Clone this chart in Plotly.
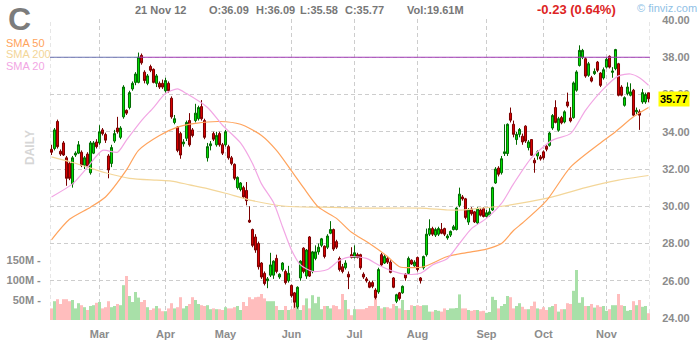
import plotly.graph_objects as go

# ---------------- data ----------------
ticker = "C"
header_date = "21 Nov 12"
header_ohlc = ["O:36.09", "H:36.09", "L:35.58", "C:35.77"]
header_vol = "Vol:19.61M"
header_change = "-0.23 (0.64%)"
last_price = 35.77

opens = [
    33.05, 33.1, 34.55, 32.95, 33.4, 32.6, 32.3, 31.2, 32.75, 32.85, 32.9, 32.2, 32.8, 31.8, 32.85, 33.45,
    33.4, 34.1, 33.85, 32.7, 32.3, 33.5, 34.2, 33.7, 34.8, 35.15, 35.3, 36.3, 36.65, 36.65, 38.1, 37.2,
    36.6, 37.5, 37.35, 36.6, 36.6, 36.6,
    36.2, 36.6, 35.8, 34.5, 34.25, 33.9, 33.35, 33.65, 34.6, 34.1, 34.6, 34.7, 35.35, 34.6, 32.6, 33.25,
    33.9, 33.3, 33.9, 33.3,
    33.3, 33.2, 32.6, 32.25, 31.0, 30.9, 31.0, 30.85, 29.25, 28.75, 28.35, 28.0, 26.95, 26.4, 26.0, 26.3,
    26.3, 27.2, 26.2, 26.6, 26.5, 26.0,
    25.75, 25.35, 24.6, 26.15, 27.75, 26.25, 28.35, 26.5, 27.2, 27.55, 27.9, 27.85, 27.8, 28.55, 28.75, 28.1,
    27.2, 26.75, 26.7, 26.35, 27.4,
    27.25, 27.4, 27.4, 26.35, 26.1, 25.9, 25.9, 25.5, 25.4, 27.4, 26.95, 27.2, 27.0, 26.15, 24.9, 25.35,
    25.35, 26.35, 26.4, 27.1, 26.8,
    27.25, 26.15, 26.7, 27.4, 28.5, 28.8, 28.45, 28.5, 28.75, 28.8, 28.3, 28.45, 28.75, 28.75, 30.05, 30.5,
    30.4, 29.15, 29.85, 29.7, 29.1, 29.8, 29.88,
    29.45, 29.52, 29.8, 31.25, 32.05, 31.8, 32.83, 32.83, 35.0, 34.4, 33.58, 33.86, 33.76, 34.3, 33.15, 33.58,
    32.47, 32.7, 32.65,
    32.92, 33.22, 33.27, 34.2, 35.3, 34.08, 34.76, 34.53, 35.6, 34.74, 34.76, 36.23, 37.56, 38.0, 37.92, 37.03,
    36.9, 37.12, 37.74, 37.15, 36.89,
    37.47, 38.05, 37.19, 37.39, 37.65, 36.4, 35.42, 36.05, 35.96, 36.23, 35.07, 35.07, 35.6, 35.6, 36.09,
]
highs = [
    33.3, 34.2, 34.65, 33.05, 33.5, 32.7, 32.4, 32.7, 32.95, 33.5, 33.0, 32.7, 32.9, 33.5, 33.5, 33.6,
    34.35, 34.2, 33.95, 32.8, 33.3, 34.1, 34.8, 34.3, 36.5, 35.2, 36.2, 36.7, 37.2, 38.25, 38.2, 37.3,
    37.1, 37.6, 37.4, 37.1, 36.7, 36.8,
    36.9, 36.7, 35.9, 34.9, 34.3, 34.0, 33.6, 34.6, 35.0, 34.2, 35.5, 35.4, 35.7, 34.7, 33.4, 33.5,
    34.0, 34.0, 34.0, 33.4,
    34.1, 33.3, 32.7, 32.3, 31.6, 31.3, 31.1, 31.3, 30.0, 28.8, 28.5, 28.1, 27.0, 26.5, 26.2, 27.5,
    27.1, 27.4, 26.4, 27.0, 26.6, 26.8,
    25.8, 25.4, 25.7, 27.1, 27.8, 27.7, 28.4, 27.6, 27.9, 28.0, 28.3, 27.9, 28.5, 29.2, 28.8, 28.2,
    27.3, 26.9, 27.1, 26.5, 27.8,
    27.9, 27.5, 27.45, 26.45, 26.2, 26.0, 26.0, 25.6, 26.7, 27.5, 27.4, 27.3, 27.1, 26.2, 25.3, 25.4,
    25.75, 26.4, 27.3, 27.15, 27.1,
    27.3, 26.2, 27.35, 28.8, 29.3, 28.9, 28.85, 28.9, 29.1, 28.85, 28.5, 28.7, 29.0, 29.95, 31.0, 30.6,
    30.45, 29.9, 29.95, 29.75, 29.95, 29.9, 29.95,
    29.8, 29.9, 31.05, 32.1, 32.15, 32.7, 34.4, 34.45, 35.3, 34.6, 34.0, 34.2, 33.9, 34.35, 33.55, 33.6,
    32.6, 33.0, 32.75,
    33.0, 33.3, 34.0, 34.95, 35.69, 34.8, 34.85, 35.15, 36.1, 35.33, 36.7, 37.3, 38.64, 38.45, 38.0, 37.75,
    37.0, 37.4, 37.8, 37.2, 37.45,
    38.0, 38.1, 37.47, 38.45, 37.7, 36.5, 35.9, 36.65, 36.6, 36.3, 35.3, 35.2, 36.3, 36.1, 36.09,
]
lows = [
    32.75, 33.0, 33.1, 32.7, 32.7, 31.1, 31.4, 31.0, 32.65, 32.8, 32.1, 32.0, 32.05, 31.7, 32.8, 33.1,
    33.3, 33.8, 33.4, 31.5, 32.1, 33.4, 33.9, 33.6, 34.7, 34.9, 35.2, 36.2, 36.5, 36.6, 37.6, 36.6,
    36.5, 37.2, 36.6, 36.4, 36.3, 36.3,
    36.1, 36.1, 34.7, 34.4, 32.9, 32.55, 33.2, 33.5, 33.2, 33.7, 34.5, 34.6, 34.6, 33.6, 32.4, 33.0,
    33.5, 33.2, 33.2, 32.75,
    33.2, 32.5, 32.2, 31.4, 30.9, 30.8, 30.4, 30.05, 29.1, 27.8, 27.5, 26.6, 26.1, 25.75, 25.6, 26.2,
    26.1, 26.4, 26.1, 26.5, 25.8, 25.9,
    25.1, 24.55, 24.5, 26.0, 26.4, 26.1, 26.2, 26.4, 27.1, 27.4, 27.8, 27.2, 27.7, 28.5, 27.6, 27.7,
    26.5, 26.4, 26.6, 25.55, 27.2,
    27.2, 27.2, 26.6, 26.1, 25.9, 25.6, 25.6, 25.0, 25.3, 26.8, 26.9, 26.9, 26.4, 25.6, 24.8, 24.95,
    25.3, 26.0, 26.35, 26.85, 26.75,
    26.5, 25.85, 26.6, 27.3, 28.4, 28.4, 28.35, 28.4, 28.5, 28.4, 28.2, 28.35, 28.7, 28.7, 29.95, 30.3,
    29.3, 29.0, 29.5, 29.1, 29.0, 29.45, 29.4,
    29.4, 29.45, 29.75, 31.2, 31.6, 31.7, 32.7, 32.7, 34.5, 33.7, 33.3, 33.7, 33.3, 33.4, 33.0, 32.7,
    31.8, 32.5, 32.45,
    32.5, 32.95, 33.2, 34.1, 34.45, 34.0, 34.4, 34.45, 35.3, 34.5, 34.7, 36.15, 37.5, 37.9, 36.9, 36.95,
    36.65, 37.05, 37.2, 36.4, 36.8,
    37.4, 37.4, 36.9, 37.3, 35.9, 35.9, 35.35, 35.95, 35.9, 34.85, 34.95, 34.1, 35.5, 35.5, 35.58,
]
closes = [
    32.9, 34.1, 33.2, 32.8, 32.75, 31.5, 31.5, 32.6, 32.85, 33.3, 32.2, 32.6, 32.15, 33.4, 33.4, 33.2,
    34.0, 33.9, 33.55, 31.95, 33.15, 33.9, 34.0, 34.2, 36.4, 35.0, 36.1, 36.6, 37.1, 38.0, 37.7, 36.75,
    37.0, 37.3, 36.65, 37.0, 36.4, 36.4,
    36.75, 36.2, 34.8, 34.7, 33.0, 32.75, 33.45, 34.5, 33.3, 33.8, 35.0, 35.3, 34.7, 33.7, 33.2, 33.35,
    33.6, 33.8, 33.3, 32.85,
    34.0, 32.6, 32.3, 31.5, 31.55, 31.25, 30.5, 30.3, 29.15, 27.9, 27.65, 26.75, 26.2, 25.85, 26.1, 26.85,
    27.05, 26.5, 26.35, 26.95, 25.9, 26.4,
    25.2, 24.85, 25.65, 27.05, 26.5, 27.65, 26.25, 27.55, 27.55, 27.8, 28.25, 27.3, 28.4, 28.75, 27.7, 27.8,
    26.6, 26.5, 26.95, 26.2, 27.25,
    27.5, 27.25, 26.7, 26.2, 26.0, 25.65, 25.7, 25.1, 26.6, 26.85, 27.3, 27.0, 26.45, 25.65, 25.25, 25.05,
    25.7, 26.15, 27.2, 26.9, 27.0,
    26.6, 26.0, 27.3, 28.5, 28.8, 28.5, 28.75, 28.8, 28.55, 28.5, 28.4, 28.65, 28.9, 29.9, 30.65, 30.4,
    29.4, 29.8, 29.6, 29.16, 29.85, 29.52, 29.45,
    29.65, 29.7, 31.0, 32.0, 31.72, 32.55, 32.92, 34.4, 34.62, 33.86, 33.86, 34.12, 33.45, 33.5, 33.45, 32.74,
    32.33, 32.92, 32.54,
    32.6, 33.06, 33.93, 34.87, 34.5, 34.7, 34.48, 35.07, 35.39, 34.58, 36.62, 37.21, 38.37, 38.37, 36.99, 37.65,
    36.72, 37.24, 37.3, 36.49, 37.33,
    37.89, 37.47, 37.26, 38.41, 35.96, 35.96, 35.83, 36.4, 36.14, 34.89, 35.15, 34.89, 36.1, 36.0, 35.77,
]
volumes_m = [
    29, 47, 52, 40, 52, 52, 47, 50, 29, 42, 37, 32, 25, 35, 37, 43,
    45, 29, 32, 47, 32, 35, 40, 37, 87, 110, 60, 45, 70, 56, 45, 50, 32, 25, 29, 35, 29, 22,
    22, 29, 42, 29, 32, 57, 29, 35, 40, 57, 50, 40, 37, 35, 37, 27, 29, 27, 27, 25,
    32, 29, 29, 32, 35, 25, 45, 35, 57, 52, 57, 58, 65, 54, 47, 47, 47, 35, 25, 25, 35, 25,
    27, 50, 58, 25, 37, 54, 29, 62, 42, 58, 27, 35, 35, 29, 37, 35, 27, 65, 50, 27, 12,
    27, 27, 27, 27, 30, 35, 35, 57, 35, 29, 32, 32, 29, 40, 35, 29, 50, 25, 25, 37, 35,
    37, 35, 37, 37, 21, 21, 25, 23, 21, 29, 25, 29, 29, 30, 64, 29, 29, 25, 23, 25, 25, 22, 23,
    18, 20, 58, 50, 29, 35, 40, 60, 57, 29, 35, 42, 33, 27, 27, 35, 46, 29, 27,
    32, 25, 32, 35, 40, 21, 27, 27, 42, 40, 73, 125, 43, 57, 35, 35, 40, 31, 37, 33, 35,
    23, 27, 37, 37, 65, 37, 35, 23, 25, 47, 37, 50, 33, 35, 17,
]

month_labels = ["Mar", "Apr", "May", "Jun", "Jul", "Aug", "Sep", "Oct", "Nov"]
month_start_idx = [16, 38, 58, 80, 101, 122, 145, 164, 185]
price_ticks = [24, 26, 28, 30, 32, 34, 36, 38, 40]
volume_ticks = [50, 100, 150]
volume_tick_text = ["50M -", "100M -", "150M -"]

sma20_idx = [0, 7, 12, 17, 22, 25, 30, 34, 38, 42, 45, 52, 57, 63, 67, 70, 74, 77, 80, 83, 87, 92, 96,
             100, 105, 109, 114, 118, 123, 127, 132, 136, 140, 145, 150, 154, 160, 167, 173, 178, 184,
             189, 193, 196, 199]
sma20_val = [30.5, 31.2, 32.1, 33.0, 32.9, 33.55, 34.6, 35.3, 36.05, 36.3, 36.05, 35.3, 34.35, 33.4,
             32.3, 31.2, 30.2, 28.9, 27.65, 26.85, 26.5, 26.6, 27.1, 27.3, 27.2, 26.85, 26.5, 26.35,
             26.4, 26.85, 27.2, 28.0, 28.8, 29.35, 30.15, 31.2, 32.6, 33.55, 33.9, 35.15, 36.3, 37.0,
             37.1, 36.9, 36.5]
sma50_idx = [0, 6, 13, 18, 25, 29, 36, 42, 48, 56, 63, 70, 75, 80, 84, 89, 95, 100, 106, 112, 116, 120,
             124, 132, 138, 145, 150, 154, 157, 165, 173, 183, 188, 194, 199]
sma50_val = [28.2, 29.3, 29.95, 30.5, 31.95, 33.0, 33.8, 34.25, 34.45, 34.55, 34.4, 33.8, 33.0, 31.9,
             31.0, 29.95, 29.35, 28.6, 28.0, 27.3, 26.75, 26.7, 26.75, 27.3, 27.5, 27.7, 28.0, 28.7,
             29.1, 30.3, 32.1, 33.4, 34.0, 34.8, 35.3]
sma200_idx = [0, 7, 13, 18, 26, 35, 40, 46, 52, 58, 67, 78, 90, 103, 123, 132, 137, 143, 150, 156, 167,
              178, 189, 199]
sma200_val = [32.65, 32.35, 32.05, 31.8, 31.5, 31.4, 31.35, 31.15, 30.95, 30.7, 30.3, 30.0, 29.95, 29.9,
              29.9, 29.8, 29.8, 29.9, 30.0, 30.15, 30.5, 31.0, 31.4, 31.65]

resistance_level = 38.0
resistance_break_idx = 29

# ---------------- styling ----------------
FONT = "Arial, Liberation Sans, sans-serif"
GRID = "#cdcdcd"
DASH = "4px,3px"
AXIS_GRAY = "#8c8c8c"
W, H = 700, 340
ML, MR, MT, MB = 50, 50, 19, 20
PW, PH = W - ML - MR, H - MT - MB

days = list(range(len(closes)))
n = len(days)
px_per_dollar = (318 - 20) / 16.0
price_top = 40 + (20 - MT) / px_per_dollar
price_bot = 24 - ((H - MB) - 318) / px_per_dollar
vol_top = PH * 2.5  # 2.5M per pixel


def px_x(px):
    return (px - ML) / PW


def px_y(py):
    return ((H - MB) - py) / PH


vol_colors = ["#a8e0a8" if c >= o else "#ffbdbd" for o, c in zip(opens, closes)]

fig = go.Figure()
fig.add_trace(go.Bar(x=days, y=volumes_m, width=1.0, yaxis="y",
                     marker=dict(color=vol_colors, line=dict(width=0)),
                     hoverinfo="skip", showlegend=False))
fig.add_trace(go.Scatter(x=sma200_idx, y=sma200_val, yaxis="y2", mode="lines",
                         line=dict(color="#f3d699", width=1.2, shape="spline", smoothing=0.7),
                         hoverinfo="skip", showlegend=False))
fig.add_trace(go.Scatter(x=sma50_idx, y=sma50_val, yaxis="y2", mode="lines",
                         line=dict(color="#ffa35c", width=1.2, shape="spline", smoothing=0.7),
                         hoverinfo="skip", showlegend=False))
fig.add_trace(go.Scatter(x=sma20_idx, y=sma20_val, yaxis="y2", mode="lines",
                         line=dict(color="#f2a6e4", width=1.2, shape="spline", smoothing=0.7),
                         hoverinfo="skip", showlegend=False))
fig.add_trace(go.Candlestick(x=days, open=opens, high=highs, low=lows, close=closes, yaxis="y2",
                             increasing=dict(line=dict(color="#006b00", width=1), fillcolor="#00dd00"),
                             decreasing=dict(line=dict(color="#7a0000", width=1), fillcolor="#d80000"),
                             whiskerwidth=0, hoverinfo="skip", showlegend=False))

shapes = [
    dict(type="line", xref="x", yref="paper", x0=-0.5, x1=-0.5, y0=0, y1=1,
         line=dict(color=GRID, width=1, dash=DASH), layer="below"),
    dict(type="line", xref="x", yref="paper", x0=n - 0.5, x1=n - 0.5, y0=0, y1=1,
         line=dict(color=GRID, width=1, dash=DASH), layer="below"),
    dict(type="line", xref="x", yref="y2", x0=-0.5, x1=resistance_break_idx, y0=resistance_level,
         y1=resistance_level, line=dict(color="#6b73b3", width=1.2)),
    dict(type="line", xref="x", yref="y2", x0=resistance_break_idx, x1=n - 0.5, y0=resistance_level,
         y1=resistance_level, line=dict(color="#a23cb6", width=1.2)),
]

ann = []


def text(px, py, s, size, color, bold=False, anchor="left", **kw):
    ann.append(dict(x=px_x(px), y=px_y(py), xref="paper", yref="paper", text=s, showarrow=False,
                    xanchor=anchor, yanchor="middle",
                    font=dict(family=FONT, size=size, color=color, weight="bold" if bold else "normal"),
                    **kw))


text(6, 19, ticker, 32, "#7c7c7c", bold=True)
text(4, 42.5, "SMA 50", 11, "#ffa35c")
text(4, 54, "SMA 200", 11, "#f3d699")
text(4, 66, "SMA 20", 11, "#f2a6e4")
text(133, 10, header_date, 11, "#777777", bold=True)
for px, s in zip([207, 254, 298, 343], header_ohlc):
    text(px, 10, s, 11, "#777777", bold=True)
text(405, 10, header_vol, 11, "#777777", bold=True)
text(535, 10, header_change, 13, "#dd2424", bold=True)
text(635, 8, "\u00a9 finviz.com", 11, "#8fc1e6")
text(30, 148, "DAILY", 12, "#d6d6d6", bold=True, anchor="center", textangle=-90)
ann.append(dict(x=px_x(673.5), y=last_price, xref="paper", yref="y2", text="<b>35.77</b>",
                showarrow=False, xanchor="center", yanchor="middle", bgcolor="#ffff00", borderpad=1,
                font=dict(family=FONT, size=11, color="#000000")))

fig.update_layout(
    width=W, height=H, autosize=False,
    margin=dict(l=ML, r=MR, t=MT, b=MB, pad=0),
    paper_bgcolor="white", plot_bgcolor="white",
    boxgap=0.32, boxgroupgap=0,
    showlegend=False,
    shapes=shapes, annotations=ann,
    xaxis=dict(range=[-0.5, n - 0.5], tickmode="array", tickvals=month_start_idx, ticktext=month_labels,
               showgrid=True, gridcolor=GRID, griddash=DASH, gridwidth=1, zeroline=False, showline=False,
               ticks="outside", ticklen=4, tickcolor="rgba(0,0,0,0)", automargin=False,
               tickfont=dict(family=FONT, size=11, color=AXIS_GRAY, weight="bold"),
               rangeslider=dict(visible=False), fixedrange=True),
    yaxis=dict(range=[0, vol_top], side="left", tickmode="array", tickvals=volume_ticks,
               ticktext=volume_tick_text, showgrid=False, zeroline=False, showline=False,
               ticks="outside", ticklen=6, tickcolor="rgba(0,0,0,0)", automargin=False,
               tickfont=dict(family=FONT, size=11, color=AXIS_GRAY, weight="bold"), fixedrange=True),
    yaxis2=dict(range=[price_bot, price_top], overlaying="y", side="right", tickmode="array",
                tickvals=price_ticks, ticktext=["%.2f" % v for v in price_ticks],
                showgrid=True, gridcolor=GRID, griddash=DASH, gridwidth=1, zeroline=False,
                showline=False, ticks="outside", ticklen=9, tickcolor="rgba(0,0,0,0)", automargin=False,
                tickfont=dict(family=FONT, size=11, color=AXIS_GRAY, weight="bold"), fixedrange=True),
)

fig.write_html("out.html")
